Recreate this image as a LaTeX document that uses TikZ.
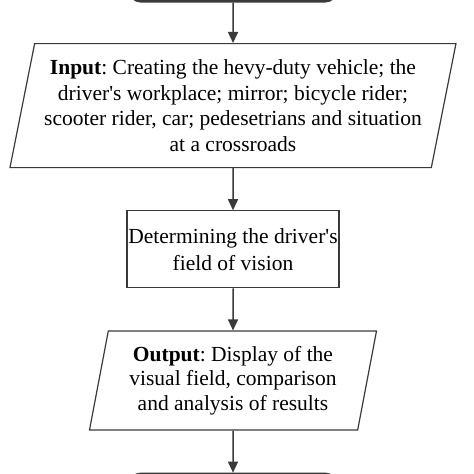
\documentclass[tikz,border=0pt]{standalone}
\usepackage{fontspec}
\setmainfont{Liberation Serif}
\frenchspacing
\usetikzlibrary{positioning,arrows.meta,shapes.geometric}
\definecolor{linegray}{HTML}{3A3A3A}
\tikzset{
  term/.style={rectangle,draw=linegray,line width=3pt,rounded corners=10pt,minimum width=205pt,minimum height=40pt},
  iobox/.style={trapezium,trapezium left angle=76,trapezium right angle=104,trapezium stretches body,draw=linegray,line width=1.2pt,align=center,inner xsep=0pt,font=\fontsize{21.5}{25.7}\selectfont},
  procbox/.style={rectangle,draw=linegray,line width=1.2pt,align=center,minimum width=212pt,minimum height=77pt,inner xsep=0pt,font=\fontsize{21.5}{27}\selectfont},
  arrow/.style={-{Triangle[width=10pt,length=11pt]},line width=1.5pt,draw=linegray}
}

\begin{document}
\begin{tikzpicture}[node distance=42pt]
\useasboundingbox (0,0) rectangle (474pt,-474pt);

\node[term,anchor=south] (start) at (233pt,-2.5pt) {};
\node[iobox,minimum width=446pt,minimum height=124pt,below=40.5pt of start] (inp) {\textbf{Input}: Creating the hevy-duty vehicle; the\\driver\textquotesingle s workplace; mirror; bicycle rider;\\scooter rider, car; pedesetrians and situation\\at a crossroads};
\node[procbox,below=of inp] (det) {Determining the driver\textquotesingle s\\field of vision};
\node[iobox,minimum width=287pt,minimum height=99pt,below=of det,font=\fontsize{21.5}{24.5}\selectfont] (out) {\textbf{Output}: Display of the\\visual field, comparison\\and analysis of results};
\node[term,below=of out] (end) {};

\draw[arrow] (start) -- (inp);
\draw[arrow] (inp) -- (det);
\draw[arrow] (det) -- (out);
\draw[arrow] (out) -- (end);

\end{tikzpicture}
\end{document}
